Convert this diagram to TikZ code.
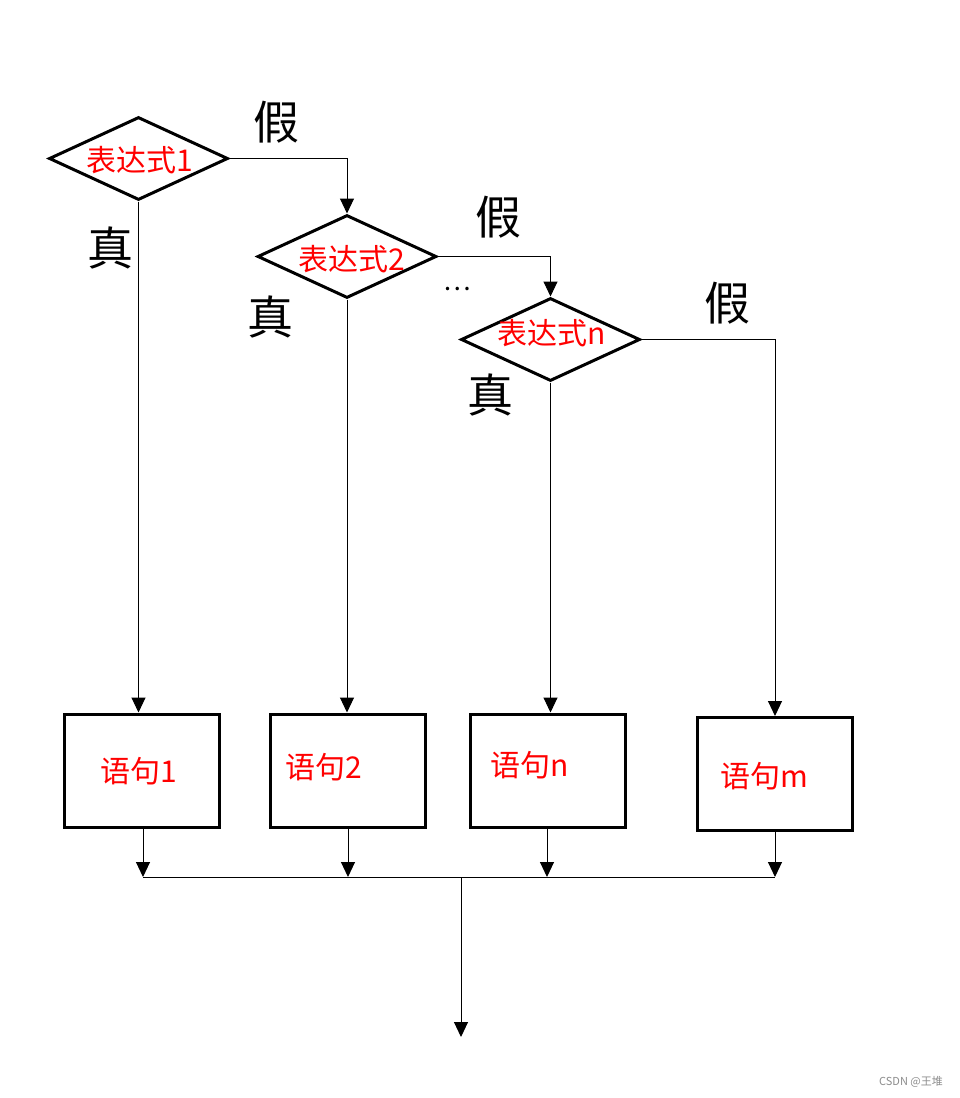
\documentclass[tikz,border=0pt]{standalone}
\usepackage{fontspec}
\setmainfont{Noto Sans CJK SC}
\usetikzlibrary{shapes.geometric,arrows.meta}
\tikzset{
  dia/.style={diamond, draw, line width=3pt, inner sep=0pt, minimum width=179pt, minimum height=83pt},
  box/.style={rectangle, draw, line width=3pt, inner sep=0pt, minimum width=155pt, minimum height=113pt},
  redtxt/.style={text=red, font=\fontsize{30}{32}\selectfont, inner sep=0pt},
  lbl/.style={font=\fontsize{46}{48}\selectfont, inner sep=0pt},
  arr/.style={line width=1pt, -{Triangle[width=14pt,length=15pt]}},
  ln/.style={line width=1pt}
}
\begin{document}
\begin{tikzpicture}[x=1pt,y=-1pt]
\useasboundingbox[fill=white] (0,0) rectangle (960,1098);
% diamonds
\node[dia] (d1) at (138.5,158.5) {};
\node[redtxt] (t1) at (140,160) {表达式1};
\node[dia] (d2) at (347,256.5) {};
\node[redtxt] (t2) at (352,259) {表达式2};
\node[dia] (dn) at (550.5,339.5) {};
\node[redtxt] (tn) at (552,333) {表达式n};
% boxes
\node[box] (b1) at (141.5,770.5) {};
\node[redtxt] (s1) at (139,771) {语句1};
\node[box] (b2) at (347.5,770.5) {};
\node[redtxt] (s2) at (324,767) {语句2};
\node[box] (bn) at (547.5,770.5) {};
\node[redtxt] (sn) at (530,765) {语句n};
\node[box] (bm) at (775,774) {};
\node[redtxt] (sm) at (764,776) {语句m};
% labels
\node[lbl] (f1) at (276,122) {假};
\node[lbl] (z1) at (110,248) {真};
\node[lbl] (f2) at (498,217) {假};
\node[lbl] (z2) at (270,317) {真};
\node[font=\fontsize{26}{28}\selectfont, inner sep=0pt] (dots) at (457,289) {…};
\node[lbl] (fn) at (727,303) {假};
\node[lbl] (zn) at (490,395) {真};
% connectors
\draw[arr] (d1.east) -| (d2.north);
\draw[arr] (d2.east) -| (dn.north);
\draw[arr] (dn.east) -| (bm.north);
\draw[arr] (d1.south) -- (d1.south |- b1.north);
\draw[arr] (d2.south) -- (d2.south |- b2.north);
\draw[arr] (dn.south) -- (dn.south |- bn.north);
% join
\coordinate (j1) at (143,877);
\coordinate (j2) at (348,877);
\coordinate (jn) at (547,877);
\coordinate (jm) at (775,877);
\coordinate (jo) at (461,877);
\coordinate (out) at (461,1037);
\draw[arr] (b1.south -| j1) -- (j1);
\draw[arr] (b2.south -| j2) -- (j2);
\draw[arr] (bn.south -| jn) -- (jn);
\draw[arr] (bm.south -| jm) -- (jm);
\draw[ln] (j1) -- (jm);
\draw[arr] (jo) -- (out);
% watermark
\node[text=black!45, font=\fontsize{11}{12}\selectfont, inner sep=0pt] (wm) at (911,1082) {CSDN @王堆};
\end{tikzpicture}
\end{document}
